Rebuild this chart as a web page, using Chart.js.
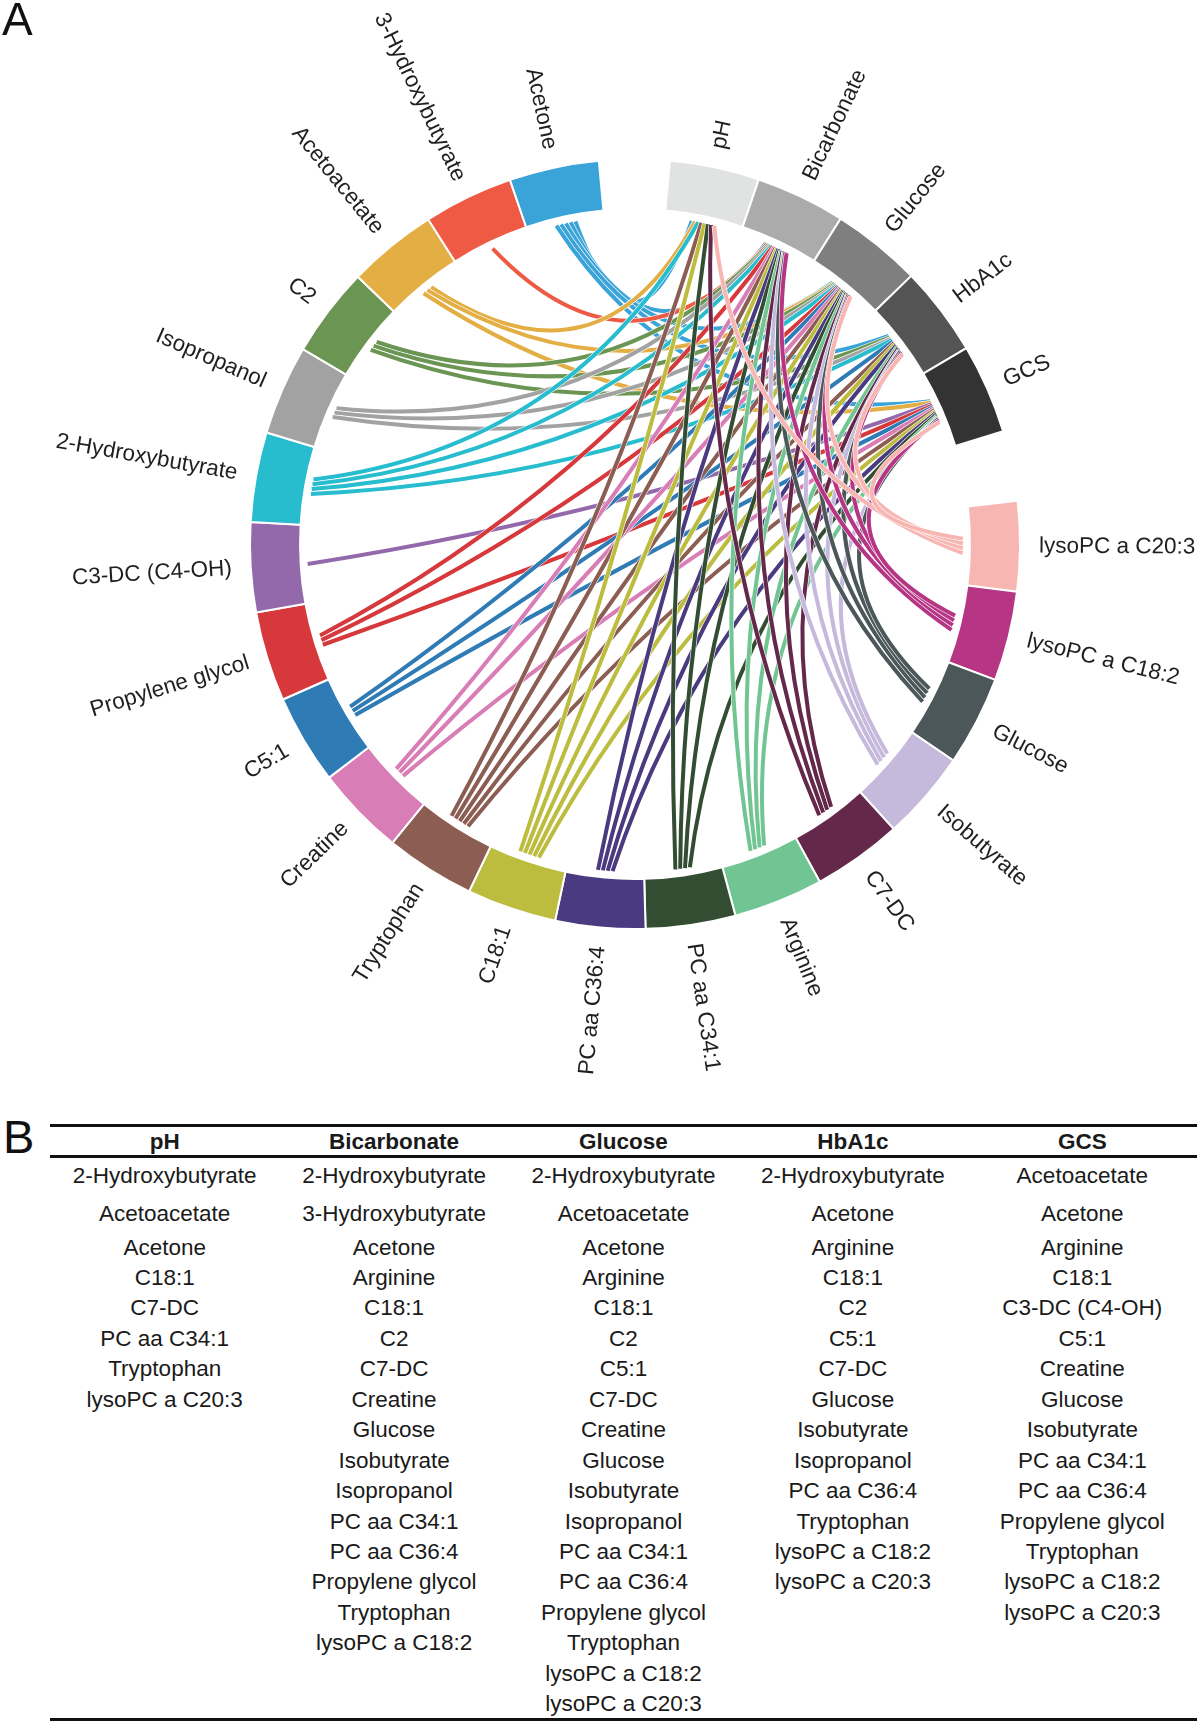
<!DOCTYPE html>
<html>
<head>
<meta charset="utf-8">
<script src="https://cdn.jsdelivr.net/npm/chart.js"></script>
<style>
  html, body { margin: 0; padding: 0; background: #fff; }
  body { width: 1200px; height: 1726px; position: relative; overflow: hidden;
         font-family: "Liberation Sans", Arial, sans-serif; color: #1a1a1a; }
  #chordCanvas { position: absolute; left: 0; top: 0; }
  .panel { position: absolute; font-size: 46px; line-height: 46px; color: #111; }
  .rule { position: absolute; left: 50px; width: 1147px; background: #111; }
  .cell { position: absolute; height: 30px; line-height: 30px; text-align: center;
          font-size: 22.5px; white-space: nowrap; color: #1a1a1a; }
  .head { font-weight: bold; }
</style>
</head>
<body>
<canvas id="chordCanvas" width="1200" height="1088"></canvas>
<div class="panel" style="left:2px; top:-4px;">A</div>
<div class="panel" style="left:3px; top:1114px; font-size:47px;">B</div>
<div id="table"></div>
<script>
// ---------------- DATA ----------------
const outcomes = ['pH', 'Bicarbonate', 'Glucose', 'HbA1c', 'GCS'];
const outcomeColors = ['#e1e3e2', '#aaabaa', '#7f7f7f', '#535453', '#323332'];

const metabolites = ['lysoPC a C20:3', 'lysoPC a C18:2', 'Glucose', 'Isobutyrate', 'C7-DC',
  'Arginine', 'PC aa C34:1', 'PC aa C36:4', 'C18:1', 'Tryptophan', 'Creatine', 'C5:1',
  'Propylene glycol', 'C3-DC (C4-OH)', '2-Hydroxybutyrate', 'Isopropanol', 'C2',
  'Acetoacetate', '3-Hydroxybutyrate', 'Acetone'];
const metaboliteColors = ['#f7b6b2', '#b63585', '#4b5758', '#c5b9dc', '#64284b',
  '#71c593', '#334d33', '#4a3a80', '#bcbd3f', '#8c5d53', '#d87db5', '#2f7bb5',
  '#d6383b', '#9369ab', '#27bcce', '#a2a2a3', '#6a9553',
  '#e3ae43', '#ee5a44', '#3aa3d8'];

// equal-sized sectors for every outcome / metabolite
const outcomeSizes = [1, 1, 1, 1, 1];
const metaboliteSizes = [1, 1, 1, 1, 1, 1, 1, 1, 1, 1, 1, 1, 1, 1, 1, 1, 1, 1, 1, 1];

const linksPH = ['2-Hydroxybutyrate', 'Acetoacetate', 'Acetone', 'C18:1', 'C7-DC',
  'PC aa C34:1', 'Tryptophan', 'lysoPC a C20:3'];
const linksBicarbonate = ['2-Hydroxybutyrate', '3-Hydroxybutyrate', 'Acetone', 'Arginine',
  'C18:1', 'C2', 'C7-DC', 'Creatine', 'Glucose', 'Isobutyrate', 'Isopropanol',
  'PC aa C34:1', 'PC aa C36:4', 'Propylene glycol', 'Tryptophan', 'lysoPC a C18:2'];
const linksGlucose = ['2-Hydroxybutyrate', 'Acetoacetate', 'Acetone', 'Arginine', 'C18:1',
  'C2', 'C5:1', 'C7-DC', 'Creatine', 'Glucose', 'Isobutyrate', 'Isopropanol',
  'PC aa C34:1', 'PC aa C36:4', 'Propylene glycol', 'Tryptophan', 'lysoPC a C18:2',
  'lysoPC a C20:3'];
const linksHbA1c = ['2-Hydroxybutyrate', 'Acetone', 'Arginine', 'C18:1', 'C2', 'C5:1',
  'C7-DC', 'Glucose', 'Isobutyrate', 'Isopropanol', 'PC aa C36:4', 'Tryptophan',
  'lysoPC a C18:2', 'lysoPC a C20:3'];
const linksGCS = ['Acetoacetate', 'Acetone', 'Arginine', 'C18:1', 'C3-DC (C4-OH)', 'C5:1',
  'Creatine', 'Glucose', 'Isobutyrate', 'PC aa C34:1', 'PC aa C36:4', 'Propylene glycol',
  'Tryptophan', 'lysoPC a C18:2', 'lysoPC a C20:3'];
const outcomeLinks = [linksPH, linksBicarbonate, linksGlucose, linksHbA1c, linksGCS];

// ---------------- LAYOUT (not data) ----------------
const GAP_DEG = 10.6;
const SECTOR_DEG = (360 - 2 * GAP_DEG) / 25;
const gapWeight = GAP_DEG / SECTOR_DEG;
const START_DEG = 5.2;

const ringData = [...outcomeSizes, gapWeight, ...metaboliteSizes, gapWeight];
const ringColors = [...outcomeColors, 'rgba(0,0,0,0)', ...metaboliteColors, 'rgba(0,0,0,0)'];
const ringLabels = [...outcomes, '', ...metabolites, ''];
const ringBorders = ringData.map((v, i) => (i === 5 || i === 26) ? 0 : 2);
const GAP1 = outcomes.length;
const MET0 = GAP1 + 1;

const deg = Math.PI / 180;

const chordPlugin = {
  id: 'chordLinks',
  afterDatasetsDraw(chart) {
    const ctx = chart.ctx;
    const arcs = chart.getDatasetMeta(0).data;
    const cx = arcs[0].x, cy = arcs[0].y;
    const outerR = arcs[0].outerRadius, innerR = arcs[0].innerRadius;
    const rLink = innerR - 7;
    const mid = i => (arcs[i].startAngle + arcs[i].endAngle) / 2;

    const links = [];
    outcomeLinks.forEach((list, o) => {
      list.forEach(name => {
        const m = metabolites.indexOf(name);
        links.push({ o, m });
      });
    });
    for (let o = 0; o < outcomes.length; o++) {
      const own = links.filter(l => l.o === o).sort((a, b) => b.m - a.m);
      const n = own.length;
      const spread = 4 * deg;
      const step = n > 1 ? spread / (n - 1) : 0;
      own.forEach((l, k) => { l.ao = mid(o) - spread / 2 + k * step; });
    }
    for (let m = 0; m < metabolites.length; m++) {
      const own = links.filter(l => l.m === m).sort((a, b) => b.o - a.o);
      const n = own.length;
      const step = 0.85 * deg;
      own.forEach((l, k) => { l.am = mid(MET0 + m) + (k - (n - 1) / 2) * step; });
    }

    const pt = (a) => [cx + rLink * Math.cos(a), cy + rLink * Math.sin(a)];
    const K = 0.5;
    const curve = (l) => {
      const p0 = pt(l.am), p2 = pt(l.ao);
      const mx = (p0[0] + p2[0]) / 2, my = (p0[1] + p2[1]) / 2;
      const c = [cx + (mx - cx) * K, cy + (my - cy) * K];
      ctx.beginPath();
      ctx.moveTo(p0[0], p0[1]);
      ctx.quadraticCurveTo(c[0], c[1], p2[0], p2[1]);
    };

    ctx.save();
    ctx.lineCap = 'butt';
    const order = links.slice().sort((a, b) => (b.m - a.m) || (a.o - b.o));
    order.forEach(l => {
      curve(l);
      ctx.strokeStyle = '#ffffff';
      ctx.lineWidth = 5.2;
      ctx.stroke();
      ctx.strokeStyle = metaboliteColors[l.m];
      ctx.lineWidth = 4;
      ctx.stroke();
    });
    ctx.restore();

    ctx.save();
    ctx.font = '22.5px "Liberation Sans", Arial, sans-serif';
    ctx.fillStyle = '#1f1f1f';
    ctx.textBaseline = 'middle';
    const rl = outerR + 19;
    ringLabels.forEach((lab, i) => {
      if (!lab) return;
      const a = mid(i);
      ctx.save();
      ctx.translate(cx + rl * Math.cos(a), cy + rl * Math.sin(a));
      if (Math.cos(a) >= 0) { ctx.rotate(a); ctx.textAlign = 'left'; }
      else { ctx.rotate(a + Math.PI); ctx.textAlign = 'right'; }
      ctx.fillText(lab, 0, 0);
      ctx.restore();
    });
    ctx.restore();
  }
};

new Chart(document.getElementById('chordCanvas'), {
  type: 'doughnut',
  data: {
    labels: ringLabels,
    datasets: [{
      data: ringData,
      backgroundColor: ringColors,
      borderColor: '#ffffff',
      borderWidth: ringBorders,
      hoverOffset: 0,
      offset: 0
    }]
  },
  options: {
    responsive: false,
    animation: false,
    devicePixelRatio: 1,
    events: [],
    rotation: START_DEG,
    circumference: 360,
    radius: 385,
    cutout: '87%',
    layout: { padding: { left: 70, right: 0, top: 0, bottom: 0 } },
    plugins: { legend: { display: false }, tooltip: { enabled: false } }
  },
  plugins: [chordPlugin]
});

// ---------------- TABLE B ----------------
(function buildTable() {
  const host = document.getElementById('table');
  const colW = 229.4, left0 = 50;
  const rowY = [1176, 1213.5, 1247.5];
  for (let i = 3; i < 18; i++) rowY.push(1247.5 + (i - 2) * 30.45);
  const addRule = (y, h) => {
    const d = document.createElement('div');
    d.className = 'rule';
    d.style.top = (y - h / 2) + 'px';
    d.style.height = h + 'px';
    host.appendChild(d);
  };
  addRule(1125.5, 2.6);
  addRule(1156.5, 2.6);
  addRule(1719.5, 2.2);
  outcomes.forEach((name, c) => {
    const h = document.createElement('div');
    h.className = 'cell head';
    h.textContent = name;
    h.style.left = (left0 + c * colW) + 'px';
    h.style.width = colW + 'px';
    h.style.top = (1142 - 15) + 'px';
    host.appendChild(h);
    outcomeLinks[c].forEach((m, r) => {
      const d = document.createElement('div');
      d.className = 'cell';
      d.textContent = m;
      d.style.left = (left0 + c * colW) + 'px';
      d.style.width = colW + 'px';
      d.style.top = (rowY[r] - 15) + 'px';
      host.appendChild(d);
    });
  });
})();
</script>
</body>
</html>
